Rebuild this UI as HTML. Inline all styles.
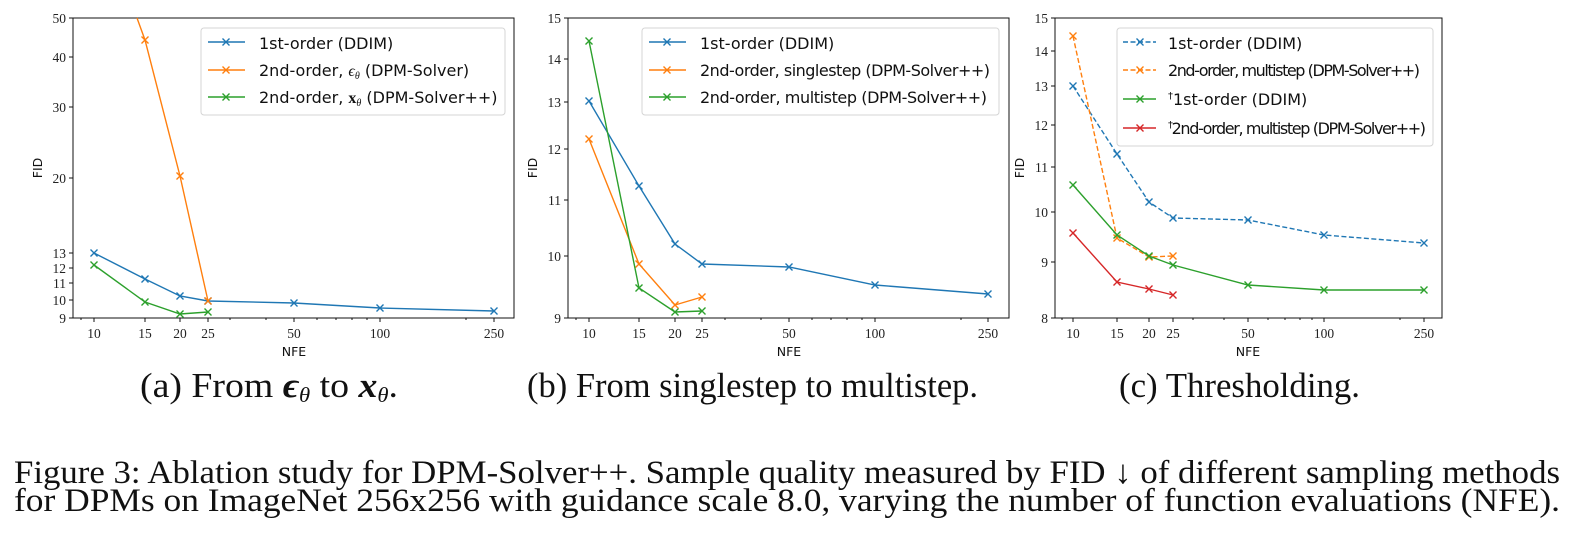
<!DOCTYPE html>
<html><head><meta charset="utf-8"><style>
html,body{margin:0;padding:0;background:#fff;}
svg{display:block;}
.tk{font-family:"Liberation Serif",serif;font-size:13.5px;fill:#222;}
.lg{font-family:"DejaVu Sans","Liberation Sans",sans-serif;font-size:16px;fill:#111;}
.al{font-family:"DejaVu Sans","Liberation Sans",sans-serif;font-size:12.5px;fill:#111;}
.cap{font-family:"Liberation Serif",serif;font-size:35px;fill:#111;}
.fig{font-family:"Liberation Serif",serif;font-size:33px;fill:#111;}
</style></head><body>
<svg width="1595" height="540" viewBox="0 0 1595 540" xmlns="http://www.w3.org/2000/svg">
<defs>
<marker id="mb" markerWidth="10" markerHeight="10" refX="5" refY="5" markerUnits="userSpaceOnUse"><path d="M1.5,1.5L8.5,8.5M8.5,1.5L1.5,8.5" stroke="#1f77b4" stroke-width="1.4"/></marker>
<marker id="mo" markerWidth="10" markerHeight="10" refX="5" refY="5" markerUnits="userSpaceOnUse"><path d="M1.5,1.5L8.5,8.5M8.5,1.5L1.5,8.5" stroke="#ff7f0e" stroke-width="1.4"/></marker>
<marker id="mg" markerWidth="10" markerHeight="10" refX="5" refY="5" markerUnits="userSpaceOnUse"><path d="M1.5,1.5L8.5,8.5M8.5,1.5L1.5,8.5" stroke="#2ca02c" stroke-width="1.4"/></marker>
<marker id="mr" markerWidth="10" markerHeight="10" refX="5" refY="5" markerUnits="userSpaceOnUse"><path d="M1.5,1.5L8.5,8.5M8.5,1.5L1.5,8.5" stroke="#d62728" stroke-width="1.4"/></marker>
</defs>

<!-- ============ PLOT 1 ============ -->
<g>
<rect x="73" y="18" width="441" height="300" fill="none" stroke="#111" stroke-width="1"/>
<g stroke="#111" stroke-width="1">
<line x1="94" y1="318" x2="94" y2="322"/><line x1="145" y1="318" x2="145" y2="322"/><line x1="180" y1="318" x2="180" y2="322"/><line x1="208" y1="318" x2="208" y2="322"/><line x1="294" y1="318" x2="294" y2="322"/><line x1="380" y1="318" x2="380" y2="322"/><line x1="494" y1="318" x2="494" y2="322"/>
<line x1="81" y1="318" x2="81" y2="320"/><line x1="230" y1="318" x2="230" y2="320"/><line x1="266" y1="318" x2="266" y2="320"/><line x1="317" y1="318" x2="317" y2="320"/><line x1="336" y1="318" x2="336" y2="320"/><line x1="352" y1="318" x2="352" y2="320"/><line x1="367" y1="318" x2="367" y2="320"/><line x1="466" y1="318" x2="466" y2="320"/>
<line x1="69" y1="18" x2="73" y2="18"/><line x1="69" y1="57" x2="73" y2="57"/><line x1="69" y1="107" x2="73" y2="107"/><line x1="69" y1="178" x2="73" y2="178"/><line x1="69" y1="253" x2="73" y2="253"/><line x1="69" y1="268" x2="73" y2="268"/><line x1="69" y1="283" x2="73" y2="283"/><line x1="69" y1="300" x2="73" y2="300"/><line x1="69" y1="318" x2="73" y2="318"/>
</g>
<g class="tk" text-anchor="end">
<text x="66" y="23">50</text><text x="66" y="62">40</text><text x="66" y="112">30</text><text x="66" y="183">20</text><text x="66" y="258">13</text><text x="66" y="273">12</text><text x="66" y="288">11</text><text x="66" y="305">10</text><text x="66" y="323">9</text>
</g>
<g class="tk" text-anchor="middle">
<text x="94" y="338">10</text><text x="145" y="338">15</text><text x="180" y="338">20</text><text x="208" y="338">25</text><text x="294" y="338">50</text><text x="380" y="338">100</text><text x="494" y="338">250</text>
</g>
<text class="al" x="294" y="356" text-anchor="middle">NFE</text>
<text class="al" transform="translate(42,168) rotate(-90)" text-anchor="middle">FID</text>
<polyline points="94,253 145,279 180,296 208,301 294,303 380,308 494,311" fill="none" stroke="#1f77b4" stroke-width="1.4" marker-start="url(#mb)" marker-mid="url(#mb)" marker-end="url(#mb)"/>
<polyline points="137,18 145,40 180,176 208,301" fill="none" stroke="#ff7f0e" stroke-width="1.4" marker-mid="url(#mo)" marker-end="url(#mo)"/>
<polyline points="94,265 145,302 180,314 208,312" fill="none" stroke="#2ca02c" stroke-width="1.4" marker-start="url(#mg)" marker-mid="url(#mg)" marker-end="url(#mg)"/>
<rect x="201" y="28" width="304" height="87" rx="3" fill="#fff" fill-opacity="0.85" stroke="#d5d5d5"/>
<polyline points="208,42 226,42 245,42" fill="none" stroke="#1f77b4" stroke-width="1.4" marker-mid="url(#mb)"/>
<polyline points="208,70 226,70 245,70" fill="none" stroke="#ff7f0e" stroke-width="1.4" marker-mid="url(#mo)"/>
<polyline points="208,97 226,97 245,97" fill="none" stroke="#2ca02c" stroke-width="1.4" marker-mid="url(#mg)"/>
<text class="lg" x="259" y="49">1st-order (DDIM)</text>
<text class="lg" x="259" y="76">2nd-order, <tspan font-family="Liberation Serif" font-style="italic">ϵ</tspan><tspan font-size="10" dy="3" font-family="Liberation Serif" font-style="italic">θ</tspan><tspan dy="-3"> (DPM-Solver)</tspan></text>
<text class="lg" x="259" y="103">2nd-order, <tspan font-family="Liberation Serif" font-weight="bold">x</tspan><tspan font-size="10" dy="3" font-family="Liberation Serif" font-style="italic">θ</tspan><tspan dy="-3"> (DPM-Solver++)</tspan></text>
</g>

<!-- ============ PLOT 2 ============ -->
<g>
<rect x="568" y="18" width="441" height="300" fill="none" stroke="#111" stroke-width="1"/>
<g stroke="#111" stroke-width="1">
<line x1="589" y1="318" x2="589" y2="322"/><line x1="639" y1="318" x2="639" y2="322"/><line x1="675" y1="318" x2="675" y2="322"/><line x1="702" y1="318" x2="702" y2="322"/><line x1="789" y1="318" x2="789" y2="322"/><line x1="875" y1="318" x2="875" y2="322"/><line x1="988" y1="318" x2="988" y2="322"/>
<line x1="576" y1="318" x2="576" y2="320"/><line x1="725" y1="318" x2="725" y2="320"/><line x1="761" y1="318" x2="761" y2="320"/><line x1="812" y1="318" x2="812" y2="320"/><line x1="831" y1="318" x2="831" y2="320"/><line x1="847" y1="318" x2="847" y2="320"/><line x1="862" y1="318" x2="862" y2="320"/><line x1="961" y1="318" x2="961" y2="320"/>
<line x1="564" y1="18" x2="568" y2="18"/><line x1="564" y1="59" x2="568" y2="59"/><line x1="564" y1="102" x2="568" y2="102"/><line x1="564" y1="149" x2="568" y2="149"/><line x1="564" y1="200" x2="568" y2="200"/><line x1="564" y1="256" x2="568" y2="256"/><line x1="564" y1="318" x2="568" y2="318"/>
</g>
<g class="tk" text-anchor="end">
<text x="561" y="23">15</text><text x="561" y="64">14</text><text x="561" y="107">13</text><text x="561" y="154">12</text><text x="561" y="205">11</text><text x="561" y="261">10</text><text x="561" y="323">9</text>
</g>
<g class="tk" text-anchor="middle">
<text x="589" y="338">10</text><text x="639" y="338">15</text><text x="675" y="338">20</text><text x="702" y="338">25</text><text x="789" y="338">50</text><text x="875" y="338">100</text><text x="988" y="338">250</text>
</g>
<text class="al" x="789" y="356" text-anchor="middle">NFE</text>
<text class="al" transform="translate(537,168) rotate(-90)" text-anchor="middle">FID</text>
<polyline points="589,101 639,186 675,244 702,264 789,267 875,285 988,294" fill="none" stroke="#1f77b4" stroke-width="1.4" marker-start="url(#mb)" marker-mid="url(#mb)" marker-end="url(#mb)"/>
<polyline points="589,139 639,264 675,305 702,297" fill="none" stroke="#ff7f0e" stroke-width="1.4" marker-start="url(#mo)" marker-mid="url(#mo)" marker-end="url(#mo)"/>
<polyline points="589,41 639,288 675,312 702,311" fill="none" stroke="#2ca02c" stroke-width="1.4" marker-start="url(#mg)" marker-mid="url(#mg)" marker-end="url(#mg)"/>
<rect x="642" y="28" width="357" height="87" rx="3" fill="#fff" fill-opacity="0.85" stroke="#d5d5d5"/>
<polyline points="649,42 667,42 686,42" fill="none" stroke="#1f77b4" stroke-width="1.4" marker-mid="url(#mb)"/>
<polyline points="649,70 667,70 686,70" fill="none" stroke="#ff7f0e" stroke-width="1.4" marker-mid="url(#mo)"/>
<polyline points="649,97 667,97 686,97" fill="none" stroke="#2ca02c" stroke-width="1.4" marker-mid="url(#mg)"/>
<text class="lg" x="700" y="49">1st-order (DDIM)</text>
<text class="lg" x="700" y="76" textLength="290">2nd-order, singlestep (DPM-Solver++)</text>
<text class="lg" x="700" y="103" textLength="287">2nd-order, multistep (DPM-Solver++)</text>
</g>

<!-- ============ PLOT 3 ============ -->
<g>
<rect x="1055" y="18" width="387" height="300" fill="none" stroke="#111" stroke-width="1"/>
<g stroke="#111" stroke-width="1">
<line x1="1073" y1="318" x2="1073" y2="322"/><line x1="1117" y1="318" x2="1117" y2="322"/><line x1="1149" y1="318" x2="1149" y2="322"/><line x1="1173" y1="318" x2="1173" y2="322"/><line x1="1248" y1="318" x2="1248" y2="322"/><line x1="1324" y1="318" x2="1324" y2="322"/><line x1="1424" y1="318" x2="1424" y2="322"/>
<line x1="1062" y1="318" x2="1062" y2="320"/><line x1="1193" y1="318" x2="1193" y2="320"/><line x1="1224" y1="318" x2="1224" y2="320"/><line x1="1268" y1="318" x2="1268" y2="320"/><line x1="1285" y1="318" x2="1285" y2="320"/><line x1="1300" y1="318" x2="1300" y2="320"/><line x1="1312" y1="318" x2="1312" y2="320"/><line x1="1400" y1="318" x2="1400" y2="320"/>
<line x1="1051" y1="18" x2="1055" y2="18"/><line x1="1051" y1="51" x2="1055" y2="51"/><line x1="1051" y1="86" x2="1055" y2="86"/><line x1="1051" y1="125" x2="1055" y2="125"/><line x1="1051" y1="167" x2="1055" y2="167"/><line x1="1051" y1="212" x2="1055" y2="212"/><line x1="1051" y1="262" x2="1055" y2="262"/><line x1="1051" y1="318" x2="1055" y2="318"/>
</g>
<g class="tk" text-anchor="end">
<text x="1048" y="23">15</text><text x="1048" y="56">14</text><text x="1048" y="91">13</text><text x="1048" y="130">12</text><text x="1048" y="172">11</text><text x="1048" y="217">10</text><text x="1048" y="267">9</text><text x="1048" y="323">8</text>
</g>
<g class="tk" text-anchor="middle">
<text x="1073" y="338">10</text><text x="1117" y="338">15</text><text x="1149" y="338">20</text><text x="1173" y="338">25</text><text x="1248" y="338">50</text><text x="1324" y="338">100</text><text x="1424" y="338">250</text>
</g>
<text class="al" x="1248" y="356" text-anchor="middle">NFE</text>
<text class="al" transform="translate(1024,168) rotate(-90)" text-anchor="middle">FID</text>
<polyline points="1073,86 1117,154 1149,202 1173,218 1248,220 1324,235 1424,243" fill="none" stroke="#1f77b4" stroke-width="1.4" stroke-dasharray="5,2.5" marker-start="url(#mb)" marker-mid="url(#mb)" marker-end="url(#mb)"/>
<polyline points="1073,36 1117,238 1149,257 1173,256" fill="none" stroke="#ff7f0e" stroke-width="1.4" stroke-dasharray="5,2.5" marker-start="url(#mo)" marker-mid="url(#mo)" marker-end="url(#mo)"/>
<polyline points="1073,185 1117,235 1149,256 1173,265 1248,285 1324,290 1424,290" fill="none" stroke="#2ca02c" stroke-width="1.4" marker-start="url(#mg)" marker-mid="url(#mg)" marker-end="url(#mg)"/>
<polyline points="1073,233 1117,282 1149,289 1173,295" fill="none" stroke="#d62728" stroke-width="1.4" marker-start="url(#mr)" marker-mid="url(#mr)" marker-end="url(#mr)"/>
<rect x="1117" y="28" width="316" height="118" rx="3" fill="#fff" fill-opacity="0.85" stroke="#d5d5d5"/>
<polyline points="1123,42 1140,42 1156,42" fill="none" stroke="#1f77b4" stroke-width="1.4" stroke-dasharray="5,2.5" marker-mid="url(#mb)"/>
<polyline points="1123,70 1140,70 1156,70" fill="none" stroke="#ff7f0e" stroke-width="1.4" stroke-dasharray="5,2.5" marker-mid="url(#mo)"/>
<polyline points="1123,99 1140,99 1156,99" fill="none" stroke="#2ca02c" stroke-width="1.4" marker-mid="url(#mg)"/>
<polyline points="1123,128 1140,128 1156,128" fill="none" stroke="#d62728" stroke-width="1.4" marker-mid="url(#mr)"/>
<text class="lg" x="1168" y="49">1st-order (DDIM)</text>
<text class="lg" x="1168" y="76" textLength="252">2nd-order, multistep (DPM-Solver++)</text>
<text class="lg" x="1168" y="105"><tspan font-size="10" dy="-6">†</tspan><tspan dy="6">1st-order (DDIM)</tspan></text>
<text class="lg" x="1168" y="134" textLength="258"><tspan font-size="10" dy="-6">†</tspan><tspan dy="6">2nd-order, multistep (DPM-Solver++)</tspan></text>
</g>

<!-- ============ CAPTIONS ============ -->
<text class="cap" x="140" y="397" textLength="258" lengthAdjust="spacingAndGlyphs">(a) From <tspan font-weight="bold" font-style="italic">ϵ</tspan><tspan font-size="21" dy="5" font-style="italic">θ</tspan><tspan dy="-5"> to </tspan><tspan font-weight="bold" font-style="italic">x</tspan><tspan font-size="21" dy="5" font-style="italic">θ</tspan><tspan dy="-5">.</tspan></text>
<text class="cap" x="527" y="397" textLength="451" lengthAdjust="spacingAndGlyphs">(b) From singlestep to multistep.</text>
<text class="cap" x="1119" y="397" textLength="241" lengthAdjust="spacingAndGlyphs">(c) Thresholding.</text>
<text class="fig" x="14" y="483" textLength="1546" lengthAdjust="spacingAndGlyphs">Figure 3: Ablation study for DPM-Solver++. Sample quality measured by FID ↓ of different sampling methods</text>
<text class="fig" x="14" y="511" textLength="1546" lengthAdjust="spacingAndGlyphs">for DPMs on ImageNet 256x256 with guidance scale 8.0, varying the number of function evaluations (NFE).</text>
</svg>
</body></html>
